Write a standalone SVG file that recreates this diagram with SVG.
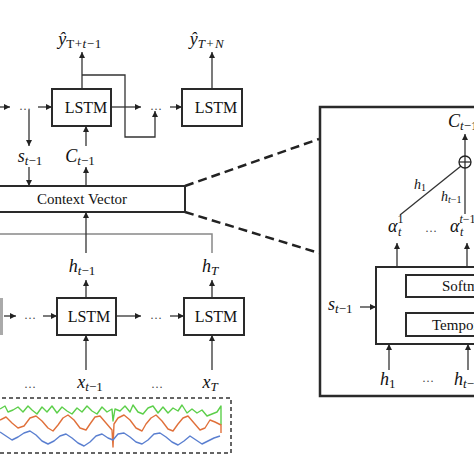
<svg xmlns="http://www.w3.org/2000/svg" width="474" height="474" viewBox="0 0 474 474">
<defs>
<marker id="ah" viewBox="0 0 10 10" refX="10" refY="5" markerWidth="6" markerHeight="6" markerUnits="userSpaceOnUse" orient="auto">
<path d="M0,0 L10,5 L0,10 z" fill="#222"/>
</marker>
<style>
.box{fill:#fff;stroke:#2a2a2a;stroke-width:2}
.lbl{font-family:"Liberation Serif","Times New Roman",serif;fill:#111}
.m{font-family:"Liberation Serif","Times New Roman",serif;font-style:italic;fill:#111}
.dots{font-family:"Liberation Serif","Times New Roman",serif;fill:#444}
.c{fill:none;stroke:#333;stroke-width:1.3}
.g{fill:none;stroke:#888;stroke-width:1.5}
.a{marker-end:url(#ah)}
.dash{fill:none;stroke:#222;stroke-width:2.5;stroke-dasharray:9 5}
.ts{fill:none;stroke-width:1.4;stroke-linejoin:round}
</style>
</defs>
<rect width="474" height="474" fill="#fff"/>

<g id="attention-frame">
<rect x="320" y="107" width="200" height="289" fill="none" stroke="#2a2a2a" stroke-width="2.5"/>
</g>

<g id="connectors">
<line class="c a" x1="0" y1="107" x2="10" y2="107"/>
<line class="c a" x1="38" y1="107" x2="52" y2="107"/>
<line class="c a" x1="29" y1="110" x2="29" y2="146"/>
<line class="c a" x1="29" y1="167" x2="29" y2="186"/>
<line class="c a" x1="82" y1="89" x2="82" y2="52"/>
<polyline class="c a" points="82,75 125,75 125,137 155,137 155,111"/>
<line class="c a" x1="111" y1="107" x2="141" y2="107"/>
<line class="c a" x1="170" y1="107" x2="182" y2="107"/>
<line class="c a" x1="212" y1="89" x2="212" y2="52"/>
<line class="c a" x1="86" y1="146" x2="86" y2="126"/>
<line class="c a" x1="86" y1="186" x2="86" y2="167"/>
<polyline class="g" points="0,234 212,234 212,253"/>
<line class="c a" x1="86" y1="253" x2="86" y2="212"/>
<line class="c a" x1="86" y1="298" x2="86" y2="280"/>
<line class="c a" x1="212" y1="298" x2="212" y2="280"/>
<line class="c a" x1="4" y1="316" x2="16" y2="316"/>
<line class="c a" x1="43" y1="316" x2="57" y2="316"/>
<line class="c a" x1="116" y1="316" x2="141" y2="316"/>
<line class="c a" x1="170" y1="316" x2="184" y2="316"/>
<line class="c a" x1="86" y1="370" x2="86" y2="335"/>
<line class="c a" x1="212" y1="370" x2="212" y2="335"/>
<line class="dash" x1="185" y1="186" x2="319" y2="139"/>
<line class="dash" x1="185" y1="212" x2="319" y2="253"/>
<line class="c a" x1="465" y1="156" x2="465" y2="134"/>
<line class="c" x1="461" y1="166" x2="400" y2="215"/>
<line class="c" x1="465" y1="168" x2="465" y2="214"/>
<line class="c a" x1="397" y1="267" x2="397" y2="243"/>
<line class="c a" x1="467" y1="267" x2="467" y2="243"/>
<line class="c a" x1="467" y1="313" x2="467" y2="297"/>
<line class="c a" x1="360" y1="307" x2="376" y2="307"/>
<line class="c a" x1="389" y1="370" x2="389" y2="344"/>
<line class="c a" x1="468" y1="370" x2="468" y2="344"/>
</g>

<g id="lstm-dec-1"><rect class="box" x="52" y="89" width="59" height="37"/><text class="lbl" x="86" y="113" font-size="16" text-anchor="middle">LSTM</text></g>
<g id="lstm-dec-2"><rect class="box" x="182" y="89" width="60" height="37"/><text class="lbl" x="216" y="113" font-size="16" text-anchor="middle">LSTM</text></g>
<g id="context-vector"><rect class="box" x="-5" y="186" width="190" height="26"/><text class="lbl" x="82" y="204" font-size="15" text-anchor="middle">Context Vector</text></g>
<g id="lstm-enc-0"><rect x="0" y="298" width="3" height="37" fill="#aaa"/></g>
<g id="lstm-enc-1"><rect class="box" x="57" y="298" width="59" height="37"/><text class="lbl" x="89" y="322" font-size="16" text-anchor="middle">LSTM</text></g>
<g id="lstm-enc-2"><rect class="box" x="184" y="298" width="60" height="37"/><text class="lbl" x="216" y="322" font-size="16" text-anchor="middle">LSTM</text></g>

<g id="labels">
<text class="m" x="80" y="45" font-size="18" text-anchor="middle">ŷ<tspan font-size="13" dy="3" font-style="normal" letter-spacing="0.6">T+<tspan font-style="italic">t</tspan>−1</tspan></text>
<text class="m" x="207" y="45" font-size="18" text-anchor="middle">ŷ<tspan font-size="13" dy="3" letter-spacing="0.6">T+N</tspan></text>
<text class="m" x="30" y="162" font-size="18" text-anchor="middle">s<tspan font-size="13" dy="3"><tspan>t</tspan><tspan font-style="normal">−1</tspan></tspan></text>
<text class="m" x="80" y="162" font-size="18" text-anchor="middle">C<tspan font-size="13" dy="3"><tspan>t</tspan><tspan font-style="normal">−1</tspan></tspan></text>
<text class="dots" x="25" y="110" font-size="12" text-anchor="middle">…</text>
<text class="dots" x="156" y="110" font-size="12" text-anchor="middle">…</text>
<text class="m" x="82" y="272" font-size="18" text-anchor="middle">h<tspan font-size="13" dy="3"><tspan>t</tspan><tspan font-style="normal">−1</tspan></tspan></text>
<text class="m" x="210" y="272" font-size="18" text-anchor="middle">h<tspan font-size="13" dy="3">T</tspan></text>
<text class="dots" x="30" y="319" font-size="12" text-anchor="middle">…</text>
<text class="dots" x="156" y="319" font-size="12" text-anchor="middle">…</text>
<text class="m" x="90" y="388" font-size="18" text-anchor="middle">x<tspan font-size="13" dy="3"><tspan>t</tspan><tspan font-style="normal">−1</tspan></tspan></text>
<text class="m" x="210" y="388" font-size="18" text-anchor="middle">x<tspan font-size="13" dy="3">T</tspan></text>
<text class="dots" x="30" y="388" font-size="12" text-anchor="middle">…</text>
<text class="dots" x="157" y="388" font-size="12" text-anchor="middle">…</text>
</g>

<g id="series">
<rect x="-5" y="398" width="236" height="55" fill="none" stroke="#333" stroke-width="1.5" stroke-dasharray="4 3"/>
<polyline class="ts" stroke="#5ccf4a" points="0,409 5,406 8,412 13,410 18,407 23,412 28,406 32,410 37,414 42,407 47,412 52,406 57,413 62,407 67,411 72,414 77,408 82,412 87,406 92,411 97,414 102,407 107,412 112,409 113,421 115,409 120,411 125,406 130,412 133,405 138,412 143,414 148,408 153,406 158,413 163,407 168,413 173,408 178,411 182,405 187,413 192,409 197,413 202,410 207,416 212,414 217,412 221,406 221,425"/>
<polyline class="ts" stroke="#e0703a" points="0,420 6,417 12,423 18,428 24,426 30,418 36,416 42,421 48,428 53,431 58,425 63,418 68,415 74,420 80,428 86,430 90,424 95,417 100,416 106,423 112,430 113,447 114,424 118,418 124,415 130,420 136,428 142,431 146,424 151,418 156,415 162,421 168,429 173,431 178,424 183,418 188,416 194,423 200,430 205,428 210,420 215,422 221,425 221,433"/>
<polyline class="ts" stroke="#5a7fd0" points="0,432 6,436 12,440 18,437 24,433 30,431 36,435 42,441 48,444 54,441 60,436 66,434 72,438 78,443 84,446 90,442 96,436 102,434 108,438 113,440 118,434 124,433 130,437 136,442 142,444 148,440 154,434 160,433 166,437 172,442 178,445 184,441 190,436 196,440 202,444 208,441 214,438 220,436"/>
</g>

<g id="attention-detail">
<text class="m" x="448" y="127" font-size="18">C<tspan font-size="13" dy="3"><tspan>t</tspan><tspan font-style="normal">−1</tspan></tspan></text>
<g id="oplus"><circle cx="465" cy="162" r="6" fill="#fff" stroke="#222" stroke-width="1.3"/><line x1="459" y1="162" x2="471" y2="162" stroke="#222" stroke-width="1.2"/><line x1="465" y1="156" x2="465" y2="168" stroke="#222" stroke-width="1.2"/></g>
<text class="m" x="414" y="189" font-size="14">h<tspan font-size="10" dy="2" font-style="normal">1</tspan></text>
<text class="m" x="441" y="201" font-size="14">h<tspan font-size="10" dy="2"><tspan>t</tspan><tspan font-style="normal">−1</tspan></tspan></text>
<text class="m" x="388" y="232" font-size="18">α<tspan font-size="12" dy="-9" font-style="normal">1</tspan><tspan font-size="12" x="398" dy="13">t</tspan></text>
<text class="dots" x="431" y="232" font-size="12" text-anchor="middle">…</text>
<text class="m" x="450" y="232" font-size="18">α<tspan font-size="12" dy="-9">t<tspan font-style="normal">−1</tspan></tspan><tspan font-size="12" x="460" dy="13">t</tspan></text>
<g id="attention-block">
<rect class="box" x="376" y="267" width="200" height="77"/>
<rect class="box" x="406" y="275" width="200" height="22" stroke-width="1.6"/>
<text class="lbl" x="442" y="291" font-size="15">Softmax</text>
<rect class="box" x="406" y="313" width="200" height="23" stroke-width="1.6"/>
<text class="lbl" x="432" y="330" font-size="15">Temporal Attention</text>
</g>
<text class="m" x="328" y="310" font-size="18">s<tspan font-size="13" dy="3"><tspan>t</tspan><tspan font-style="normal">−1</tspan></tspan></text>
<text class="m" x="380" y="385" font-size="18">h<tspan font-size="13" dy="3" font-style="normal">1</tspan></text>
<text class="dots" x="428" y="382" font-size="12" text-anchor="middle">…</text>
<text class="m" x="454" y="385" font-size="18">h<tspan font-size="13" dy="3"><tspan>t</tspan><tspan font-style="normal">−1</tspan></tspan></text>
</g>
</svg>
